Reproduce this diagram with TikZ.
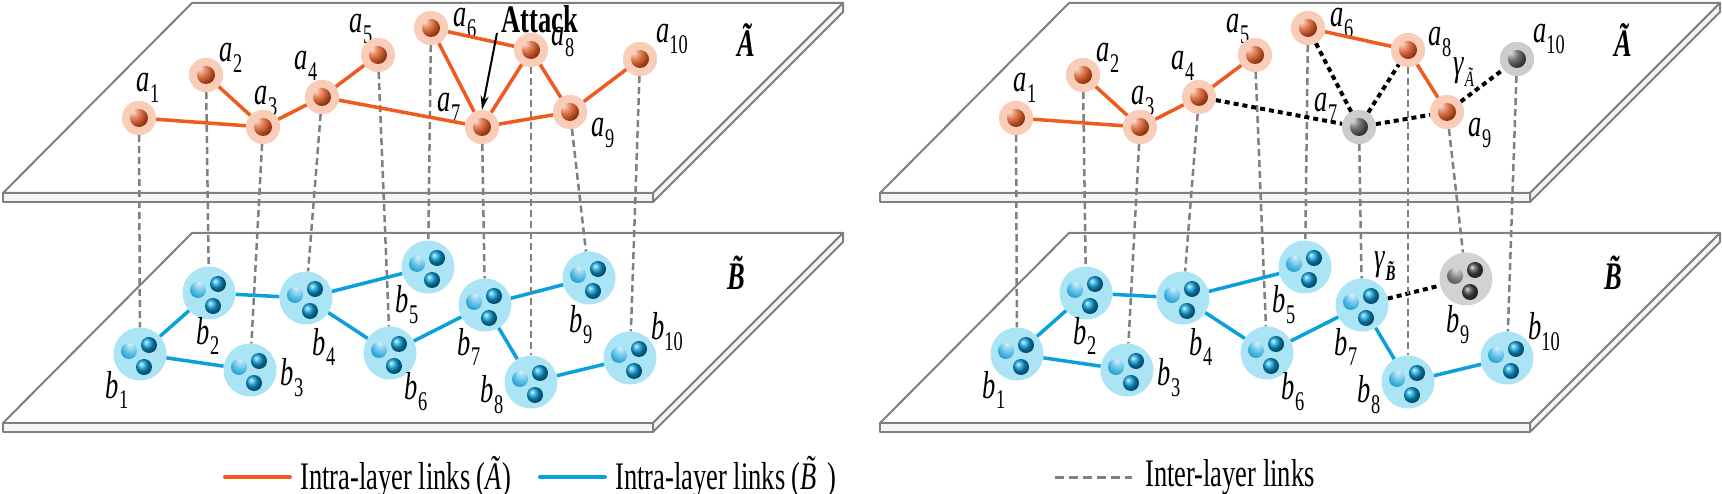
\documentclass[tikz,border=0pt]{standalone}
\usepackage{fontspec}
\setmainfont{Liberation Serif}
\usetikzlibrary{arrows.meta}
\definecolor{orA}{RGB}{240,90,30}
\definecolor{pinkA}{RGB}{250,205,185}
\definecolor{blB}{RGB}{10,160,220}
\definecolor{lbB}{RGB}{170,228,245}
\definecolor{plane}{RGB}{128,128,128}
\newcommand\sqz[1]{\scalebox{0.68}[1]{#1}}
\newcommand\nl[2]{\sqz{\textit{#1}\raisebox{-0.28em}{\fontsize{27}{28}\selectfont #2}}}
\begin{document}
\begin{tikzpicture}[x=1pt,y=-1pt,
  anode/.style={circle,minimum size=34pt,inner sep=0pt,fill=pinkA,draw=none,
    path picture={\shade[ball color=orA!90!black] (path picture bounding box.center) circle (9pt);}},
  gnode/.style={circle,minimum size=34pt,inner sep=0pt,fill=gray!40,draw=none,
    path picture={\shade[ball color=gray!60!black] (path picture bounding box.center) circle (9pt);}},
  bnode/.style={circle,minimum size=53pt,inner sep=0pt,fill=lbB,draw=none,
    path picture={\foreach \u/\v in {-11/-3,9/-9,4/13}{\shade[ball color=blB] ([shift={(\u pt,-\v pt)}]path picture bounding box.center) circle (8pt);}}},
  gbnode/.style={circle,minimum size=53pt,inner sep=0pt,fill=gray!35,draw=none,
    path picture={\foreach \u/\v in {-11/-3,9/-9,4/13}{\shade[ball color=gray!55!black] ([shift={(\u pt,-\v pt)}]path picture bounding box.center) circle (8pt);}}},
  lab/.style={inner sep=0pt,font=\fontsize{39}{41}\selectfont},
  lg/.style={inner sep=0pt,anchor=west,font=\fontsize{39}{41}\selectfont},
  alink/.style={orA,line width=3.5pt},
  blink/.style={blB,line width=3.5pt},
  inter/.style={plane,line width=2.5pt,dash pattern=on 7pt off 4pt},
  blk/.style={black,line width=4pt,dash pattern=on 5pt off 4pt},
  pl/.style={plane,line width=2pt,line join=round}
]
\useasboundingbox (0,0) rectangle (1722,494);
% planes
\foreach \dx in {0,877}{\foreach \dy in {0,230}{
  \draw[pl,fill=white] (192+\dx,3+\dy) -- (843+\dx,3+\dy) -- (653+\dx,193+\dy) -- (3+\dx,193+\dy) -- cycle;
  \draw[pl,fill=gray!8] (3+\dx,193+\dy) rectangle (653+\dx,202+\dy);
  \draw[pl,fill=gray!8] (653+\dx,193+\dy) -- (843+\dx,3+\dy) -- (843+\dx,12+\dy) -- (653+\dx,202+\dy) -- cycle;
}}
% layer names
\foreach \dx/\p in {0/L,877/R}{
  \node[lab] (\p At) at (746+\dx,40) {\sqz{\textbf{\textit{\~A}}}};
  \node[lab] (\p Bt) at (742+\dx,273) {\sqz{\textbf{\textit{\~B}}}};
}
% B nodes
\foreach \n/\x/\y in {1/140/354,2/209/293,3/250/370,4/306/298,5/428/267,6/390/353,7/485/305,8/531/382,9/589/278,10/630/358}
  \node[bnode] (Lb\n) at (\x,\y) {};
\foreach \n/\x/\y in {1/140/354,2/209/293,3/250/370,4/306/298,5/428/267,6/390/353,7/485/305,8/531/382,10/630/358}
  \node[bnode] (Rb\n) at (\x+877,\y) {};
\node[gbnode] (Rb9) at (1466,279) {};
% A nodes
\foreach \n/\x/\y in {1/139/118,2/206/75,3/263/127,4/322/97,5/378/55,6/431/28,7/482/127,8/531/50,9/570/112,10/640/59}
  \node[anode] (La\n) at (\x,\y) {};
\foreach \n/\x/\y in {1/139/118,2/206/75,3/263/127,4/322/97,5/378/55,6/431/28,8/531/50,9/570/112}
  \node[anode] (Ra\n) at (\x+877,\y) {};
\node[gnode] (Ra7) at (1359,127) {};
\node[gnode] (Ra10) at (1517,59) {};
% labels
\foreach \dx/\p in {0/L,877/R}{
  \foreach \n/\x/\y in {1/148/88,2/231/58,3/266/101,4/306/66,5/361/29,6/465/23,7/449/108,8/563/42,9/603/133,10/672/39}
    \node[lab] (\p la\n) at (\x+\dx,\y) {\nl{a}{\n}};
  \foreach \n/\x/\y in {1/117/390,2/208/336,3/292/378,4/324/347,5/407/305,6/416/392,7/469/347,8/492/395,9/581/325,10/667/332}
    \node[lab] (\p lb\n) at (\x+\dx,\y) {\nl{b}{\n}};
}
\node[lab] (gA) at (1464,72) {\sqz{\textit{γ}\raisebox{-0.3em}{\fontsize{22}{23}\selectfont\textit{\~A}}}};
\node[lab] (gB) at (1388,266) {\sqz{\textit{γ}\raisebox{-0.3em}{\fontsize{22}{23}\selectfont\textbf{\textit{\~B}}}}};
% intra links B
\foreach \p in {L,R}{
  \foreach \u/\v in {1/2,1/3,2/4,4/5,4/6,6/7,7/8,8/10}
    \draw[blink] (\p b\u) -- (\p b\v);
}
\draw[blink] (Lb7) -- (Lb9);
\draw[blk] (Rb7) -- (Rb9);
% inter-layer links
\foreach \p in {L,R}{
  \foreach \u/\v in {1/1,2/2,3/3,4/4,5/6,6/5,7/7,8/8,9/9,10/10}
    \draw[inter] (\p a\u) -- (\p b\v);
}
% intra links A
\foreach \u/\v in {1/3,2/3,3/4,4/5,4/7,6/8,6/7,7/8,8/9,7/9,9/10}
  \draw[alink] (La\u) -- (La\v);
\foreach \u/\v in {1/3,2/3,3/4,4/5,6/8,8/9}
  \draw[alink] (Ra\u) -- (Ra\v);
\foreach \u/\v in {4/7,6/7,7/8,7/9,9/10}
  \draw[blk] (Ra\u) -- (Ra\v);
% redraw A nodes on top of links
\foreach \n/\x/\y in {1/139/118,2/206/75,3/263/127,4/322/97,5/378/55,6/431/28,7/482/127,8/531/50,9/570/112,10/640/59}
  \node[anode] at (\x,\y) {};
\foreach \n/\x/\y in {1/139/118,2/206/75,3/263/127,4/322/97,5/378/55,6/431/28,8/531/50,9/570/112}
  \node[anode] at (\x+877,\y) {};
\node[gnode] at (1359,127) {};
\node[gnode] at (1517,59) {};
% attack
\node[lab] (atk) at (540,19) {\sqz{\textbf{Attack}}};
\coordinate (atk0) at (497,33);
\draw[-{Stealth[length=14pt,width=8pt]},line width=2pt] (atk0) -- (La7.north);
% legend
\coordinate (l1a) at (225,477); \coordinate (l1b) at (290,477);
\coordinate (l2a) at (540,477); \coordinate (l2b) at (605,477);
\coordinate (l3a) at (1055,477); \coordinate (l3b) at (1132,477);
\draw[orA,line width=4pt,line cap=round] (l1a) -- (l1b);
\draw[blB,line width=4pt,line cap=round] (l2a) -- (l2b);
\draw[plane,line width=3pt,dash pattern=on 9pt off 5pt] (l3a) -- (l3b);
\node[lg] (t1) at (300,477) {\sqz{Intra-layer links (\textit{\~A})}};
\node[lg] (t2) at (615,477) {\sqz{Intra-layer links (\textit{\~B})}};
\node[lg] (t3) at (1145,477) {\sqz{Inter-layer links}};
\end{tikzpicture}
\end{document}
